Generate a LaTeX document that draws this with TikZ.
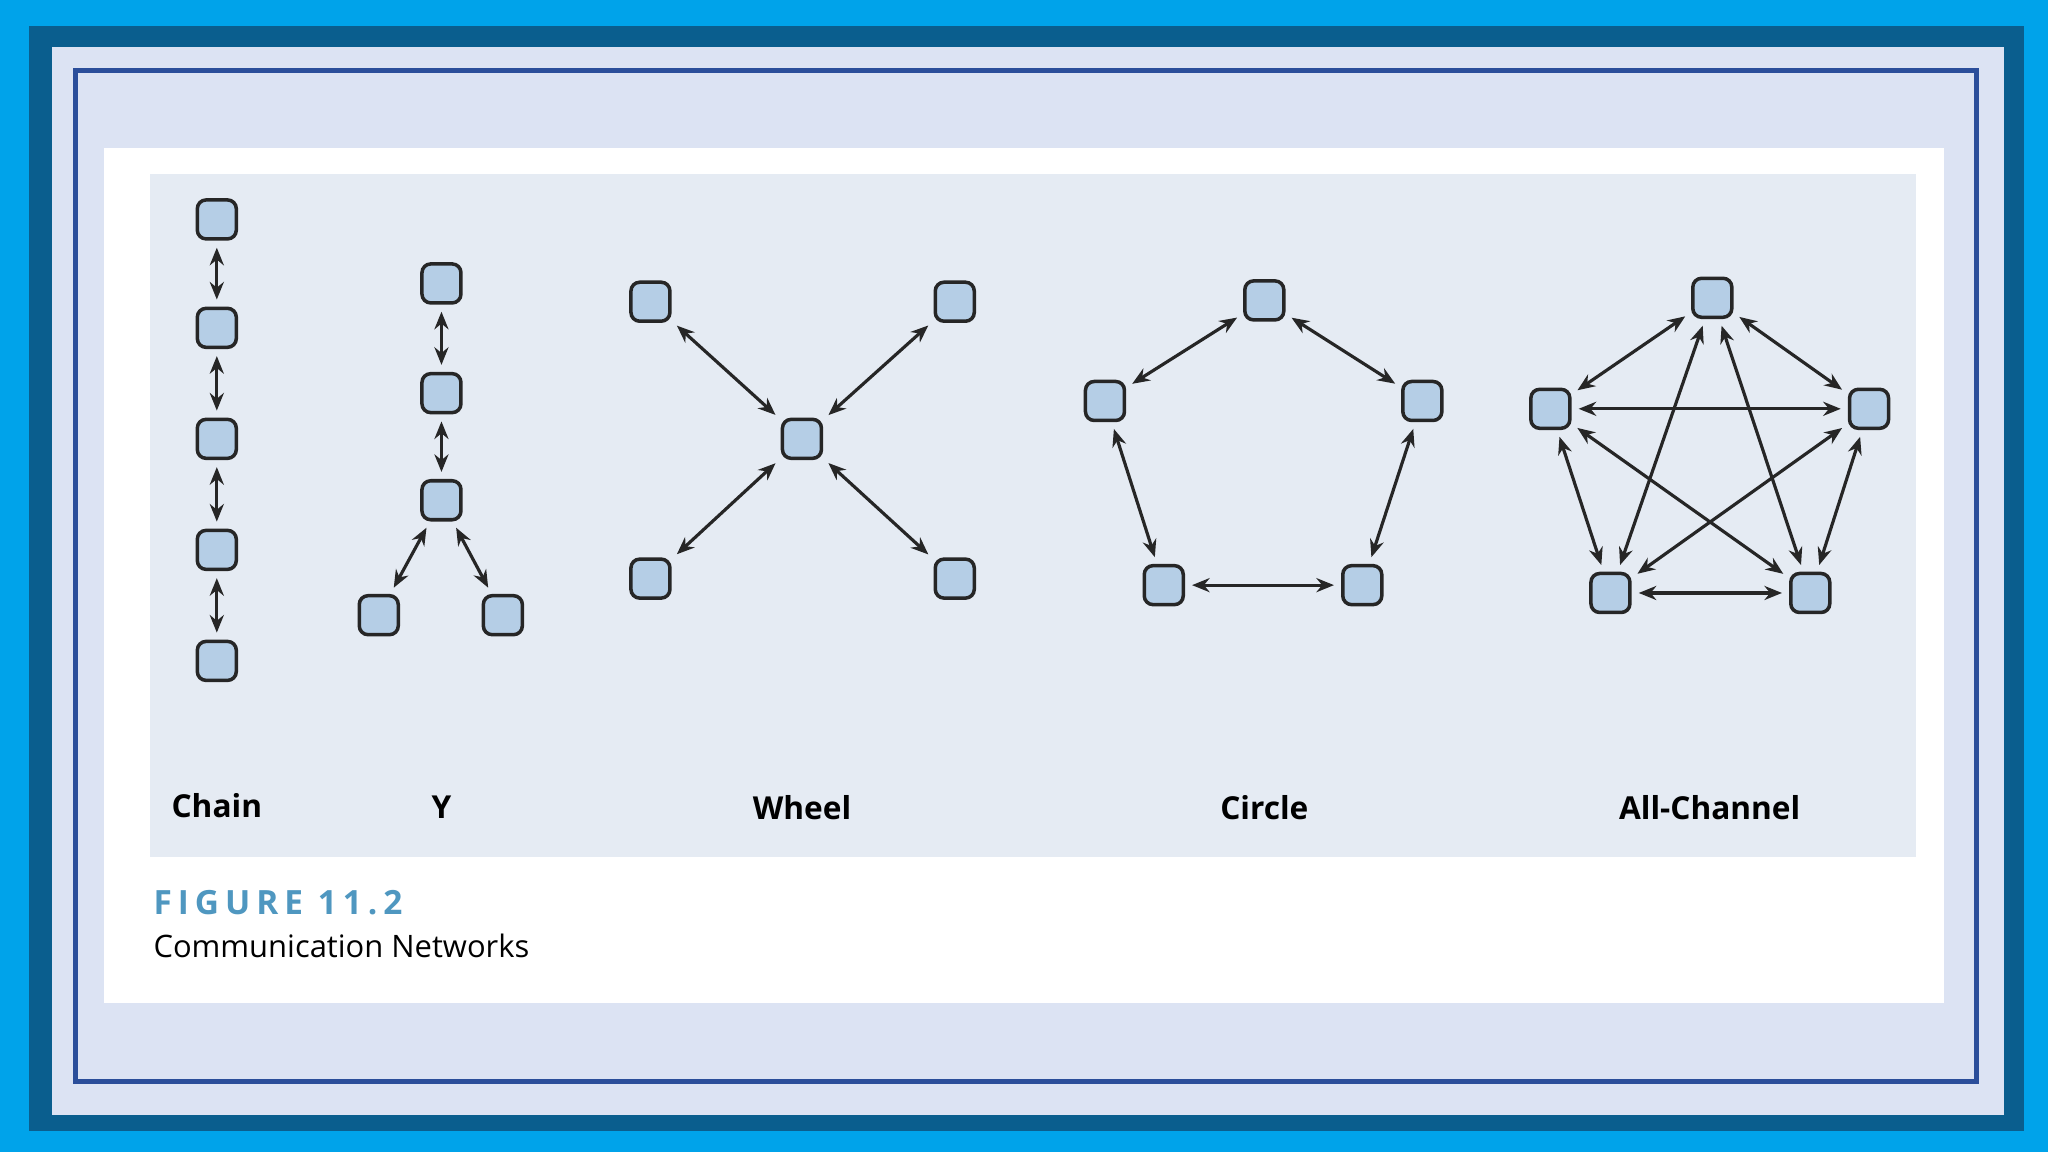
\documentclass[tikz,border=0pt]{standalone}
\usepackage{fontspec}
\setmainfont{Open Sans}
\newfontfamily\spacedf[LetterSpace=18]{Open Sans}
\usetikzlibrary{arrows.meta}
\definecolor{bgblue}{HTML}{00A3EA}
\definecolor{darkband}{HTML}{0A5E8E}
\definecolor{lav}{HTML}{DCE3F3}
\definecolor{rule}{HTML}{2B4E9A}
\definecolor{inner}{HTML}{E5EBF3}
\definecolor{nodefill}{HTML}{B5CEE6}
\definecolor{figc}{HTML}{4F97C0}
\begin{document}
\begin{tikzpicture}[x=0.013061cm,y=-0.013061cm,
  n/.style={draw=black!85,line width=1pt,fill=nodefill,rounded corners=2.5pt,minimum size=0.39cm,inner sep=0pt},
  e/.style={{Stealth[length=5pt,width=4pt]}-{Stealth[length=5pt,width=4pt]},line width=0.9pt,black!85,shorten <=2pt,shorten >=2pt},
  lab/.style={font=\bfseries\fontsize{9}{11}\selectfont}]
\useasboundingbox (0,0) rectangle (1568,882);
\fill[bgblue] (0,0) rectangle (1568,882);
\fill[darkband] (22,20) rectangle (1550,866);
\fill[lav] (40,36) rectangle (1534,854);
\draw[rule,line width=1.5pt] (58,54) rectangle (1513,828);
\fill[white] (80,113) rectangle (1488,768);
\fill[inner] (115,133) rectangle (1467,656);
% Chain
\foreach \i/\y in {1/168,2/251,3/336,4/421,5/506} \node[n] (c\i) at (166,\y) {};
\foreach \a/\b in {1/2,2/3,3/4,4/5} \draw[e] (c\a) -- (c\b);
% Y
\node[n] (y1) at (338,217) {}; \node[n] (y2) at (338,301) {};
\node[n] (y3) at (338,383) {}; \node[n] (y4) at (290,471) {}; \node[n] (y5) at (385,471) {};
\draw[e] (y1)--(y2); \draw[e] (y2)--(y3); \draw[e] (y3)--(y4); \draw[e] (y3)--(y5);
% Wheel
\node[n] (w0) at (614,336) {};
\node[n] (w1) at (498,231) {}; \node[n] (w2) at (731,231) {};
\node[n] (w3) at (498,443) {}; \node[n] (w4) at (731,443) {};
\foreach \i in {1,...,4} \draw[e] (w0)--(w\i);
% Circle
\node[n] (r1) at (968,230) {}; \node[n] (r2) at (846,307) {}; \node[n] (r3) at (1089,307) {};
\node[n] (r4) at (891,448) {}; \node[n] (r5) at (1043,448) {};
\draw[e] (r1)--(r2); \draw[e] (r1)--(r3); \draw[e] (r2)--(r4); \draw[e] (r3)--(r5); \draw[e] (r4)--(r5);
% All-channel
\node[n] (a1) at (1311,228) {}; \node[n] (a2) at (1187,313) {}; \node[n] (a3) at (1431,313) {};
\node[n] (a4) at (1233,454) {}; \node[n] (a5) at (1386,454) {};
\foreach \a/\b in {1/2,1/3,1/4,1/5,2/3,2/4,2/5,3/4,3/5,4/5} \draw[e] (a\a)--(a\b);
% labels
\node[lab] (l1) at (166,617) {Chain};
\node[lab] (l2) at (338,618) {Y};
\node[lab] (l3) at (614,618) {Wheel};
\node[lab] (l4) at (968,618) {Circle};
\node[lab] (l5) at (1309,618) {All-Channel};
\node[anchor=west,inner sep=0pt,text=figc,font=\spacedf\bfseries\fontsize{9.5}{11}\selectfont] (fig) at (117,691) {FIGURE 11.2};
\node[anchor=west,inner sep=0pt,font=\fontsize{8.8}{11}\selectfont] (cap) at (117,724) {Communication Networks};
\end{tikzpicture}
\end{document}
